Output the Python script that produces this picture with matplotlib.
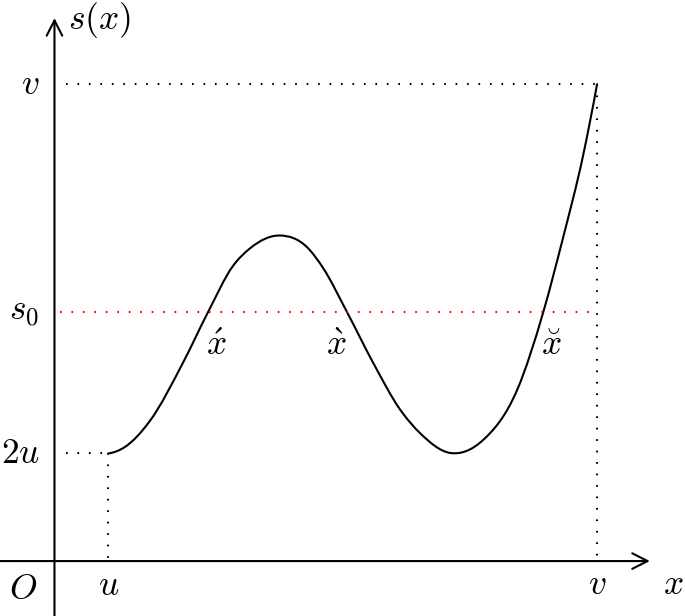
import matplotlib
matplotlib.use('Agg')
import matplotlib.pyplot as plt
from matplotlib.path import Path
from matplotlib.patches import PathPatch

plt.rcParams['mathtext.fontset'] = 'cm'

# s(x)
curve_x = [1.00, 1.31, 1.78, 2.40, 2.87, 3.34, 3.66, 4.22, 4.73, 5.03, 5.48,
           5.97, 6.47, 6.85, 7.41, 8.03, 8.67, 9.16, 9.53, 9.91, 10.17]
curve_y = [2.00, 2.12, 2.61, 3.70, 4.65, 5.52, 5.85, 6.09, 5.87, 5.48, 4.65,
           3.70, 2.83, 2.38, 2.01, 2.25, 3.19, 4.65, 6.04, 7.60, 8.93]

# marked values on the axes
x_u = 1.0
x_v = 10.17
y_2u = 2.0
y_s0 = 4.65
y_v = 8.93

# points where s(x) = s0
cross_x = [2.87, 5.48, 9.16]
cross_labels = [r'$\acute{x}$', r'$\grave{x}$', r'$\breve{x}$']
cross_dx = [0.16, -0.20, 0.16]


def smooth_path(xs, ys):
    # cubic hermite through the points (slopes from neighbours), as beziers
    n = len(xs)
    h = [xs[i + 1] - xs[i] for i in range(n - 1)]
    d = [(ys[i + 1] - ys[i]) / h[i] for i in range(n - 1)]
    m = [0.0] * n
    for i in range(1, n - 1):
        m[i] = (d[i - 1] * h[i] + d[i] * h[i - 1]) / (h[i - 1] + h[i])
    m[0] = ((2 * h[0] + h[1]) * d[0] - h[0] * d[1]) / (h[0] + h[1])
    m[-1] = ((2 * h[-1] + h[-2]) * d[-1] - h[-1] * d[-2]) / (h[-1] + h[-2])
    verts = [(xs[0], ys[0])]
    codes = [Path.MOVETO]
    for i in range(n - 1):
        verts += [(xs[i] + h[i] / 3, ys[i] + m[i] * h[i] / 3),
                  (xs[i + 1] - h[i] / 3, ys[i + 1] - m[i + 1] * h[i] / 3),
                  (xs[i + 1], ys[i + 1])]
        codes += [Path.CURVE4] * 3
    return Path(verts, codes)


fig = plt.figure(figsize=(6.85, 6.16), dpi=100)
ax = fig.add_axes([0, 0, 1, 1])
ax.set_xlim(-1.032, 11.82)
ax.set_ylim(-1.051, 10.51)
ax.axis('off')

fs = 25.5
dot = dict(color='black', lw=1.5, linestyle=(0, (0.8, 4.7)),
           dash_capstyle='butt')

# guide lines
ax.plot([0.2, x_v], [y_v, y_v], **dot)
ax.plot([x_v, x_v], [y_v, 0], **dot)
ax.plot([0.2, x_u], [y_2u, y_2u], **dot)
ax.plot([x_u, x_u], [y_2u, 0], **dot)
ax.plot([0.1, x_v], [y_s0, y_s0], **{**dot, 'color': 'red'})

# axes with arrows
arrow = dict(arrowstyle='->,head_length=0.55,head_width=0.28', lw=1.5,
             color='black', shrinkA=0, shrinkB=0, mutation_scale=20)
ax.annotate('', xy=(11.16, -0.02), xytext=(-1.1, -0.02), arrowprops=arrow)
ax.annotate('', xy=(-0.01, 10.17), xytext=(-0.01, -1.1), arrowprops=arrow)

# the curve
ax.add_patch(PathPatch(smooth_path(curve_x, curve_y), facecolor='none',
                       edgecolor='black', lw=1.5, capstyle='round'))

# labels
ax.text(0.25, 10.13, r'$s(x)$', fontsize=fs, ha='left', va='center')
ax.text(11.6, -0.45, r'$x$', fontsize=fs, ha='center', va='center')
ax.text(-0.6, -0.55, r'$O$', fontsize=fs, ha='center', va='center')
ax.text(x_u, -0.47, r'$u$', fontsize=fs, ha='center', va='center')
ax.text(x_v, -0.45, r'$v$', fontsize=fs, ha='center', va='center')
ax.text(-0.3, y_v, r'$v$', fontsize=fs, ha='right', va='center')
ax.text(-0.3, y_s0, r'$s_0$', fontsize=fs, ha='right', va='center')
ax.text(-0.28, y_2u, r'$2u$', fontsize=fs, ha='right', va='center')
for cx, dx, lab in zip(cross_x, cross_dx, cross_labels):
    ax.text(cx + dx, y_s0 - 0.62, lab, fontsize=fs, ha='center',
            va='center')

fig.savefig('out.png', dpi=100)
